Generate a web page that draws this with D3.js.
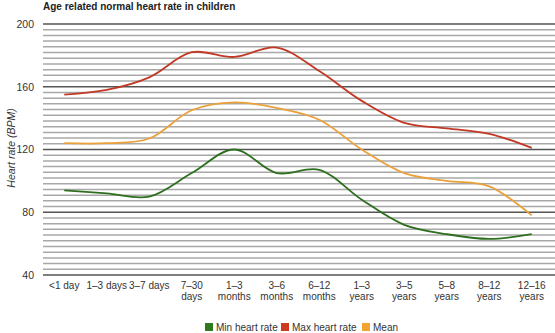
<!DOCTYPE html>
<html>
<head>
<meta charset="utf-8">
<script src="https://cdn.jsdelivr.net/npm/d3@7"></script>
<style>
  html, body { margin: 0; padding: 0; background: #fff; }
  svg { display: block; font-family: "Liberation Sans", Arial, sans-serif; }
</style>
</head>
<body>
<svg id="chart" width="555" height="333"></svg>
<script>
const title = "Age related normal heart rate in children";
const yTitle = "Heart rate (BPM)";
const categories = [
  ["<1 day"], ["1\u20133 days"], ["3\u20137 days"], ["7\u201330", "days"],
  ["1\u20133", "months"], ["3\u20136", "months"], ["6\u201312", "months"],
  ["1\u20133", "years"], ["3\u20135", "years"], ["5\u20138", "years"],
  ["8\u201312", "years"], ["12\u201316", "years"]
];
const seriesNames = ["Min heart rate", "Max heart rate", "Mean"];
const minRate  = [94, 92, 90, 105, 120, 105, 107, 88, 72, 66, 63, 66];
const maxRate  = [155, 158, 166, 182, 179, 185, 170, 151, 137, 133.5, 130, 121];
const meanRate = [124, 124, 127, 145, 150, 146.5, 139, 120, 105, 100, 96.5, 78];
const yTicks = [40, 80, 120, 160, 200];
const colors = ["#2f7a1f", "#cc3a1f", "#f0a232"];
const lineColors = ["#2e6f1f", "#c23824", "#eba13a"];

const svg = d3.select("#chart");
const x = d3.scaleBand().domain(d3.range(categories.length)).range([43, 553]);
const y = d3.scaleLinear().domain([40, 200]).range([275, 24]);
const xc = i => x(i) + x.bandwidth() / 2;

// gridlines: major every 40, 11 minor divisions
const sub = 11;
const gridVals = d3.range(0, 4 * sub + 1).map(i => 40 + i * 40 / sub);
svg.append("g").selectAll("line").data(gridVals).join("line")
  .attr("x1", 43).attr("x2", 555)
  .attr("y1", d => y(d)).attr("y2", d => y(d))
  .attr("stroke", (d, i) => i % sub === 0 ? "#555" : "#a8a8a8")
  .attr("stroke-width", 1.5);

// y axis labels
const yAxis = d3.axisLeft(y).tickValues(yTicks).tickSize(0).tickPadding(0);
const ya = svg.append("g").attr("transform", "translate(34,0)").call(yAxis);
ya.select(".domain").remove();
ya.selectAll("text").attr("font-size", 10.5).attr("fill", "#333")
  .attr("font-family", "Liberation Sans, Arial, sans-serif");

// x labels
const xl = svg.append("g");
categories.forEach((lines, i) => {
  const t = xl.append("text").attr("x", xc(i)).attr("y", 288.5)
    .attr("text-anchor", "middle").attr("font-size", 10).attr("fill", "#333");
  lines.forEach((ln, j) => {
    t.append("tspan").attr("x", xc(i)).attr("dy", j === 0 ? 0 : 11).text(ln);
  });
});

// lines
const series = [minRate, maxRate, meanRate];
const line = d3.line().x((d, i) => xc(i)).y(d => y(d)).curve(d3.curveCatmullRom.alpha(0.5));
series.forEach((s, k) => {
  svg.append("path").datum(s).attr("d", line)
    .attr("fill", "none").attr("stroke", lineColors[k]).attr("stroke-width", 1.8);
});

// title
svg.append("text").attr("x", 43).attr("y", 10).attr("font-size", 10)
  .attr("font-weight", "bold").attr("fill", "#222").text(title);

// y title
svg.append("text").attr("transform", "translate(15,148) rotate(-90)")
  .attr("text-anchor", "middle").attr("font-size", 10.5).attr("font-style", "italic")
  .attr("fill", "#333").text(yTitle);

// legend
const legX = [205, 281, 362];
const lg = svg.append("g");
seriesNames.forEach((n, k) => {
  lg.append("rect").attr("x", legX[k]).attr("y", 323).attr("width", 8).attr("height", 8)
    .attr("fill", colors[k]);
  lg.append("text").attr("x", legX[k] + 11).attr("y", 330.5).attr("font-size", 10)
    .attr("fill", "#333").text(n);
});
</script>
</body>
</html>
